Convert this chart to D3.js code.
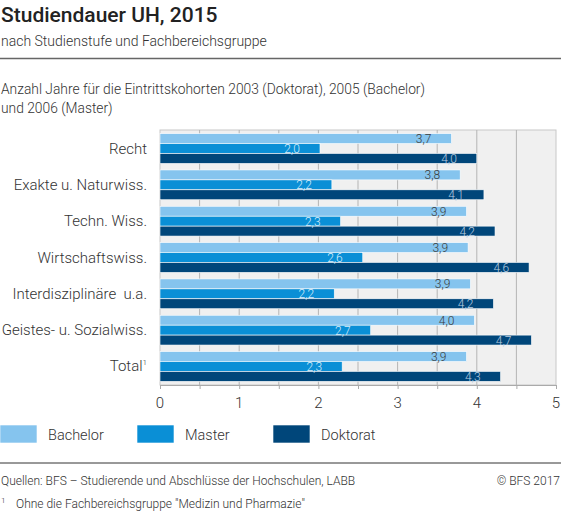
<!DOCTYPE html>
<html>
<head>
<meta charset="utf-8">
<script src="https://cdn.jsdelivr.net/npm/d3@7"></script>
<style>
  body { margin: 0; background: #fff; }
  svg { font-family: Roboto, "Noto Sans", sans-serif; }
</style>
</head>
<body>
<div id="chart"></div>
<script>
// Data
const categories = ['Recht', 'Exakte u. Naturwiss.', 'Techn. Wiss.', 'Wirtschaftswiss.',
  'Interdisziplinäre  u.a.', 'Geistes- u. Sozialwiss.', 'Total'];
const series = ['Bachelor', 'Master', 'Doktorat'];
const bachelor = [3.68, 3.79, 3.87, 3.89, 3.92, 3.97, 3.87];
const master = [2.02, 2.17, 2.28, 2.56, 2.2, 2.66, 2.3];
const doktorat = [4.0, 4.09, 4.23, 4.66, 4.21, 4.69, 4.3];
const bachelorLabels = ['3,7', '3,8', '3,9', '3,9', '3,9', '4,0', '3,9'];
const masterLabels = ['2,0', '2,2', '2,3', '2,6', '2,2', '2,7', '2,3'];
const doktoratLabels = ['4,0', '4,1', '4,2', '4,6', '4,2', '4,7', '4,3'];
const xTicks = [0, 1, 2, 3, 4, 5];

const colors = { Bachelor: '#85c4ee', Master: '#0a8fd6', Doktorat: '#00467a' };
const labelColors = { Bachelor: '#3c3c3c', Master: '#d6ecfa', Doktorat: '#b8cde0' };

const rows = categories.flatMap((c, i) => [
  { cat: c, s: 'Bachelor', v: bachelor[i], label: bachelorLabels[i] },
  { cat: c, s: 'Master', v: master[i], label: masterLabels[i] },
  { cat: c, s: 'Doktorat', v: doktorat[i], label: doktoratLabels[i] }
]);

const W = 561, H = 513;
const plot = { left: 160, right: 556, top: 130, bottom: 385 };

const svg = d3.select('#chart').append('svg')
  .attr('width', W).attr('height', H);

// Header
svg.append('text').attr('x', 1).attr('y', 22)
  .style('font-size', '21px').style('font-weight', 500).style('fill', '#222')
  .text('Studiendauer UH, 2015');
svg.append('text').attr('x', 1).attr('y', 46)
  .style('font-size', '14px').style('font-weight', 300).style('fill', '#333')
  .text('nach Studienstufe und Fachbereichsgruppe');
svg.append('line').attr('x1', 0).attr('x2', W).attr('y1', 58.5).attr('y2', 58.5)
  .style('stroke', '#666').style('stroke-width', 1.5);
svg.append('text').attr('x', 1).attr('y', 94)
  .style('font-size', '13.8px').style('font-weight', 300).style('fill', '#333')
  .text('Anzahl Jahre für die Eintrittskohorten 2003 (Doktorat), 2005 (Bachelor)');
svg.append('text').attr('x', 1).attr('y', 113)
  .style('font-size', '13.8px').style('font-weight', 300).style('fill', '#333')
  .text('und 2006 (Master)');

// Scales
const x = d3.scaleLinear().domain([0, 5]).range([plot.left, plot.right]);
const y = d3.scaleBand().domain(categories).range([plot.top, plot.bottom])
  .paddingInner(0.18).paddingOuter(0.1);
const ySub = d3.scaleBand().domain(series).range([0, y.bandwidth()]);

// Plot background
svg.append('rect')
  .attr('x', plot.left).attr('y', plot.top)
  .attr('width', plot.right - plot.left).attr('height', plot.bottom - plot.top)
  .style('fill', '#f0f0f0').style('stroke', '#c8c8c8');

// Grid lines every 0.5
svg.append('g').selectAll('line')
  .data(d3.range(0.5, 5, 0.5))
  .join('line')
  .attr('x1', d => x(d)).attr('x2', d => x(d))
  .attr('y1', plot.top).attr('y2', plot.bottom)
  .style('stroke', '#b4b4b4').style('stroke-width', 1);

// Bars
svg.append('g').selectAll('rect')
  .data(rows)
  .join('rect')
  .attr('x', x(0))
  .attr('y', d => y(d.cat) + ySub(d.s))
  .attr('width', d => x(d.v) - x(0))
  .attr('height', ySub.bandwidth())
  .style('fill', d => colors[d.s])
  .style('stroke', '#fff').style('stroke-width', 0.6);

// Value labels
svg.append('g').selectAll('text')
  .data(rows)
  .join('text')
  .attr('x', d => x(d.v) - 20)
  .attr('y', d => y(d.cat) + ySub(d.s) + ySub.bandwidth() / 2 + 4.5)
  .attr('text-anchor', 'end')
  .style('font-size', '12px').style('font-weight', 300)
  .style('fill', d => labelColors[d.s])
  .text(d => d.label);

// Category labels
const catG = svg.append('g').selectAll('text')
  .data(categories)
  .join('text')
  .attr('x', 147)
  .attr('y', d => y(d) + y.bandwidth() / 2 + 5)
  .attr('text-anchor', 'end')
  .style('font-size', '15px').style('font-weight', 300).style('fill', '#333')
  .style('white-space', 'pre')
  .attr('xml:space', 'preserve');
catG.text(d => d);
catG.filter(d => d === 'Total').append('tspan')
  .attr('dy', -6).style('font-size', '8px').text('1');

// X axis
const xAxis = svg.append('g')
  .attr('transform', `translate(0,${plot.bottom})`)
  .call(d3.axisBottom(x).tickValues(d3.range(0, 5.01, 0.5)).tickSize(4).tickFormat(''));
xAxis.select('.domain').style('stroke', '#aaa');
xAxis.selectAll('.tick line').style('stroke', '#aaa');
svg.append('g').selectAll('text')
  .data(xTicks)
  .join('text')
  .attr('x', d => x(d)).attr('y', 408)
  .attr('text-anchor', 'middle')
  .style('font-size', '15px').style('font-weight', 300).style('fill', '#333')
  .text(d => d);

// Legend
const legendX = [0, 137, 273];
const lg = svg.append('g').selectAll('g')
  .data(series)
  .join('g')
  .attr('transform', (d, i) => `translate(${legendX[i]},425)`);
lg.append('rect').attr('width', 37).attr('height', 18)
  .style('fill', d => colors[d]).style('stroke', '#fff').style('stroke-width', 0.6);
lg.append('text').attr('x', 48).attr('y', 14.5)
  .style('font-size', '14.5px').style('font-weight', 300).style('fill', '#333')
  .text(d => d);

// Footer
svg.append('line').attr('x1', 0).attr('x2', W).attr('y1', 463).attr('y2', 463)
  .style('stroke', '#333').style('stroke-width', 1);
svg.append('text').attr('x', 1).attr('y', 485)
  .style('font-size', '12px').style('font-weight', 300).style('fill', '#333')
  .text('Quellen: BFS – Studierende und Abschlüsse der Hochschulen, LABB');
svg.append('text').attr('x', W - 1).attr('y', 485).attr('text-anchor', 'end')
  .style('font-size', '12px').style('font-weight', 300).style('fill', '#333')
  .text('© BFS 2017');
svg.append('text').attr('x', 1).attr('y', 503)
  .style('font-size', '8px').style('font-weight', 300).style('fill', '#333')
  .text('1');
svg.append('text').attr('x', 16).attr('y', 508)
  .style('font-size', '12px').style('font-weight', 300).style('fill', '#333')
  .text('Ohne die Fachbereichsgruppe "Medizin und Pharmazie"');
</script>
</body>
</html>
